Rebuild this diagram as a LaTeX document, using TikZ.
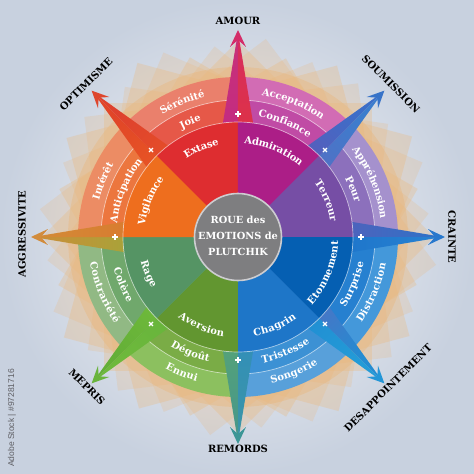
\documentclass[tikz,border=0pt]{standalone}
\usepackage{fontspec}
\setmainfont{DejaVu Serif}
\newfontfamily\wmfont{Liberation Sans}
\usetikzlibrary{decorations.text}
% background
\definecolor{bgin}{RGB}{246,247,250}
\definecolor{bgout}{RGB}{200,209,223}
\definecolor{starc}{RGB}{232,188,135}
\definecolor{starb}{RGB}{238,178,110}
% inner
\definecolor{cExt}{RGB}{222,45,48}
\definecolor{cAdm}{RGB}{172,30,135}
\definecolor{cTer}{RGB}{118,78,165}
\definecolor{cEto}{RGB}{5,95,178}
\definecolor{cCha}{RGB}{30,118,200}
\definecolor{cAve}{RGB}{98,150,48}
\definecolor{cRag}{RGB}{85,148,100}
\definecolor{cVig}{RGB}{238,110,30}
% middle
\definecolor{cJoi}{RGB}{230,88,72}
\definecolor{cCon}{RGB}{192,75,165}
\definecolor{cPeu}{RGB}{140,112,188}
\definecolor{cSur}{RGB}{38,128,208}
\definecolor{cTri}{RGB}{60,145,212}
\definecolor{cDeg}{RGB}{122,172,70}
\definecolor{cCol}{RGB}{112,168,108}
\definecolor{cAnt}{RGB}{236,118,62}
% outer
\definecolor{cSer}{RGB}{234,128,108}
\definecolor{cAcc}{RGB}{210,108,180}
\definecolor{cApp}{RGB}{165,145,205}
\definecolor{cDis}{RGB}{68,152,218}
\definecolor{cSon}{RGB}{88,160,218}
\definecolor{cEnn}{RGB}{140,192,95}
\definecolor{cCtr}{RGB}{145,185,132}
\definecolor{cInt}{RGB}{236,140,100}
% arrows
\definecolor{aPb}{RGB}{190,35,140}\definecolor{aPt}{RGB}{200,50,120}
\definecolor{aMb}{RGB}{228,55,45}\definecolor{aMt}{RGB}{215,45,95}\definecolor{aH}{RGB}{212,45,105}
\definecolor{sPb}{RGB}{125,70,170}\definecolor{sPt}{RGB}{60,110,200}
\definecolor{sMb}{RGB}{112,95,185}\definecolor{sMt}{RGB}{60,125,205}\definecolor{sH}{RGB}{55,115,200}
\definecolor{kPb}{RGB}{115,80,175}\definecolor{kPt}{RGB}{45,115,200}
\definecolor{kMb}{RGB}{20,105,195}\definecolor{kMt}{RGB}{40,130,210}\definecolor{kH}{RGB}{40,120,205}
\definecolor{dPb}{RGB}{125,85,180}\definecolor{dPt}{RGB}{35,140,210}
\definecolor{dMb}{RGB}{30,125,205}\definecolor{dMt}{RGB}{35,155,215}\definecolor{dH}{RGB}{35,150,215}
\definecolor{rPb}{RGB}{40,135,205}\definecolor{rPt}{RGB}{60,150,165}
\definecolor{rMb}{RGB}{100,175,100}\definecolor{rMt}{RGB}{70,150,140}\definecolor{rH}{RGB}{60,150,150}
\definecolor{mPb}{RGB}{95,175,60}\definecolor{mPt}{RGB}{110,185,60}
\definecolor{mMb}{RGB}{125,200,65}\definecolor{mMt}{RGB}{100,175,55}\definecolor{mH}{RGB}{105,180,60}
\definecolor{gPb}{RGB}{125,190,60}\definecolor{gPt}{RGB}{205,140,55}
\definecolor{gMb}{RGB}{225,105,40}\definecolor{gMt}{RGB}{210,140,55}\definecolor{gH}{RGB}{210,140,60}
\definecolor{oPb}{RGB}{240,105,30}\definecolor{oPt}{RGB}{225,70,40}
\definecolor{oMb}{RGB}{238,95,35}\definecolor{oMt}{RGB}{222,65,45}\definecolor{oH}{RGB}{222,70,45}
\definecolor{cGrey}{RGB}{126,126,128}
\definecolor{cGreyB}{RGB}{205,205,208}
\newcommand\ringfont{\bfseries\fontsize{10}{12}\selectfont\color{white}}
\newcommand\ringtop[3]{%
  \path[decorate,decoration={text along path,text align=center,raise=-3.3pt,
    text={|\ringfont|#3}}] ({#1+35}:#2) arc[start angle={#1+35},end angle={#1-35},radius=#2];}
\newcommand\ringbot[3]{%
  \path[decorate,decoration={text along path,text align=center,raise=-3.3pt,
    text={|\ringfont|#3}}] ({#1-35}:#2) arc[start angle={#1-35},end angle={#1+35},radius=#2];}
\tikzset{
  outerlabel/.style={font=\bfseries\fontsize{10}{12}\selectfont, text=black, inner sep=0pt},
  plusmark/.style={white, line width=1.3pt},
  sepline/.style={white, opacity=0.6, line width=0.7pt}
}
\begin{document}
\begin{tikzpicture}[x=1pt,y=1pt]
\useasboundingbox (-238,-237) rectangle (236,237);
\shade[inner color=bgin, outer color=bgout] (-238,-237) rectangle (236,237);
% star layers
\fill[starc, opacity=0.45] (0,0) circle[radius=170];
\foreach \a/\r in {0/196,15/186,30/201,45/190,60/198,75/185}{
  \fill[starc, opacity=0.34, rotate=\a] (\r,0) -- (0,\r) -- (-\r,0) -- (0,-\r) -- cycle;}
\foreach \a/\r in {7/192,22/199,37/188,52/195,67/190,82/200}{
  \fill[starb, opacity=0.2, rotate=\a] (\r,0) -- (0,\r) -- (-\r,0) -- (0,-\r) -- cycle;}
% outer ring
\foreach \s/\c in {90/cSer,45/cAcc,0/cApp,-45/cDis,-90/cSon,-135/cEnn,-180/cCtr,135/cInt}{
  \fill[\c] (0,0) -- (\s:160) arc[start angle=\s,end angle={\s+45},radius=160] -- cycle;}
% middle ring
\foreach \s/\c in {90/cJoi,45/cCon,0/cPeu,-45/cSur,-90/cTri,-135/cDeg,-180/cCol,135/cAnt}{
  \fill[\c] (0,0) -- (\s:137) arc[start angle=\s,end angle={\s+45},radius=137] -- cycle;}
\draw[sepline] (0,0) circle[radius=137];
% arrows
\foreach \a/\pb/\pt/\mb/\mt/\hd in {90/aPb/aPt/aMb/aMt/aH, 45/sPb/sPt/sMb/sMt/sH,
   0/kPb/kPt/kMb/kMt/kH, -45/dPb/dPt/dMb/dMt/dH, -90/rPb/rPt/rMb/rMt/rH,
   -135/mPb/mPt/mMb/mMt/mH, 180/gPb/gPt/gMb/gMt/gH, 135/oPb/oPt/oMb/oMt/oH}{
  \pgfmathsetmacro\sa{\a+90}
  \shade[left color=\pb, right color=\pt, shading angle=\sa]
     (0,0) -- ({\a+90}:34) -- (\a:205) -- cycle;
  \shade[left color=\mb, right color=\mt, shading angle=\sa]
     (0,0) -- ({\a-90}:34) -- (\a:205) -- cycle;
  \fill[\hd, rotate=\a] (207,0) -- (190,8) -- (197,0) -- (190,-8) -- cycle;
}
% plus marks
\foreach \a in {0,45,...,315}{
  \draw[plusmark, rotate=\a] (120.2,0) -- (125.8,0) (123,-2.8) -- (123,2.8);}
% inner ring
\foreach \s/\c in {90/cExt,45/cAdm,0/cTer,-45/cEto,-90/cCha,-135/cAve,-180/cRag,135/cVig}{
  \fill[\c] (0,0) -- (\s:115) arc[start angle=\s,end angle={\s+45},radius=115] -- cycle;}
\draw[sepline] (0,0) circle[radius=115];
% centre
\node[circle, fill=cGrey, draw=cGreyB, line width=1.6pt, minimum size=87pt, inner sep=0pt] (centre) at (0,0) {};
\node[align=center, text=white, font=\bfseries\fontsize{9.8}{16}\selectfont] (title) at (0,1) {ROUE des\\EMOTIONS de\\PLUTCHIK};
% ring texts
\ringtop{112.5}{97}{Extase}
\ringtop{112.5}{125}{Joie}
\ringtop{112.5}{147}{Sérénité}
\ringtop{67.5}{97}{Admiration}
\ringtop{67.5}{125}{Confiance}
\ringtop{67.5}{147}{Acceptation}
\ringtop{22.5}{97}{Terreur}
\ringtop{22.5}{125}{Peur}
\ringtop{22.5}{147}{Appréhension}
\ringtop{157.5}{97}{Vigilance}
\ringtop{157.5}{125}{Anticipation}
\ringtop{157.5}{147}{Intérêt}
\ringbot{-22.5}{97}{Etonnement}
\ringbot{-22.5}{125}{Surprise}
\ringbot{-22.5}{147}{Distraction}
\ringbot{-67.5}{97}{Chagrin}
\ringbot{-67.5}{125}{Tristesse}
\ringbot{-67.5}{147}{Songerie}
\ringbot{-112.5}{97}{Aversion}
\ringbot{-112.5}{125}{Dégoût}
\ringbot{-112.5}{147}{Ennui}
\ringbot{-157.5}{97}{Rage}
\ringbot{-157.5}{125}{Colère}
\ringbot{-157.5}{147}{Contrariété}
% outer labels
\node[outerlabel] (amour) at (0,216) {AMOUR};
\node[outerlabel] (remords) at (0,-212) {REMORDS};
\node[outerlabel, rotate=-90] (crainte) at (214,0) {CRAINTE};
\node[outerlabel, rotate=90] (aggr) at (-216,3) {AGGRESSIVITE};
\node[outerlabel, rotate=45] (optim) at (-152,153) {OPTIMISME};
\node[outerlabel, rotate=-45] (soum) at (153,153) {SOUMISSION};
\node[outerlabel, rotate=45] (desap) at (150,-151) {DESAPPOINTEMENT};
\node[outerlabel, rotate=-45] (mepris) at (-151,-150) {MEPRIS};
% watermark text
\node[rotate=90, font=\wmfont\fontsize{8.5}{9}\selectfont, text={rgb,255:red,95;green,95;blue,100}, inner sep=0pt] (wm) at (-226,-181) {Adobe Stock | \#97281716};
\end{tikzpicture}
\end{document}
